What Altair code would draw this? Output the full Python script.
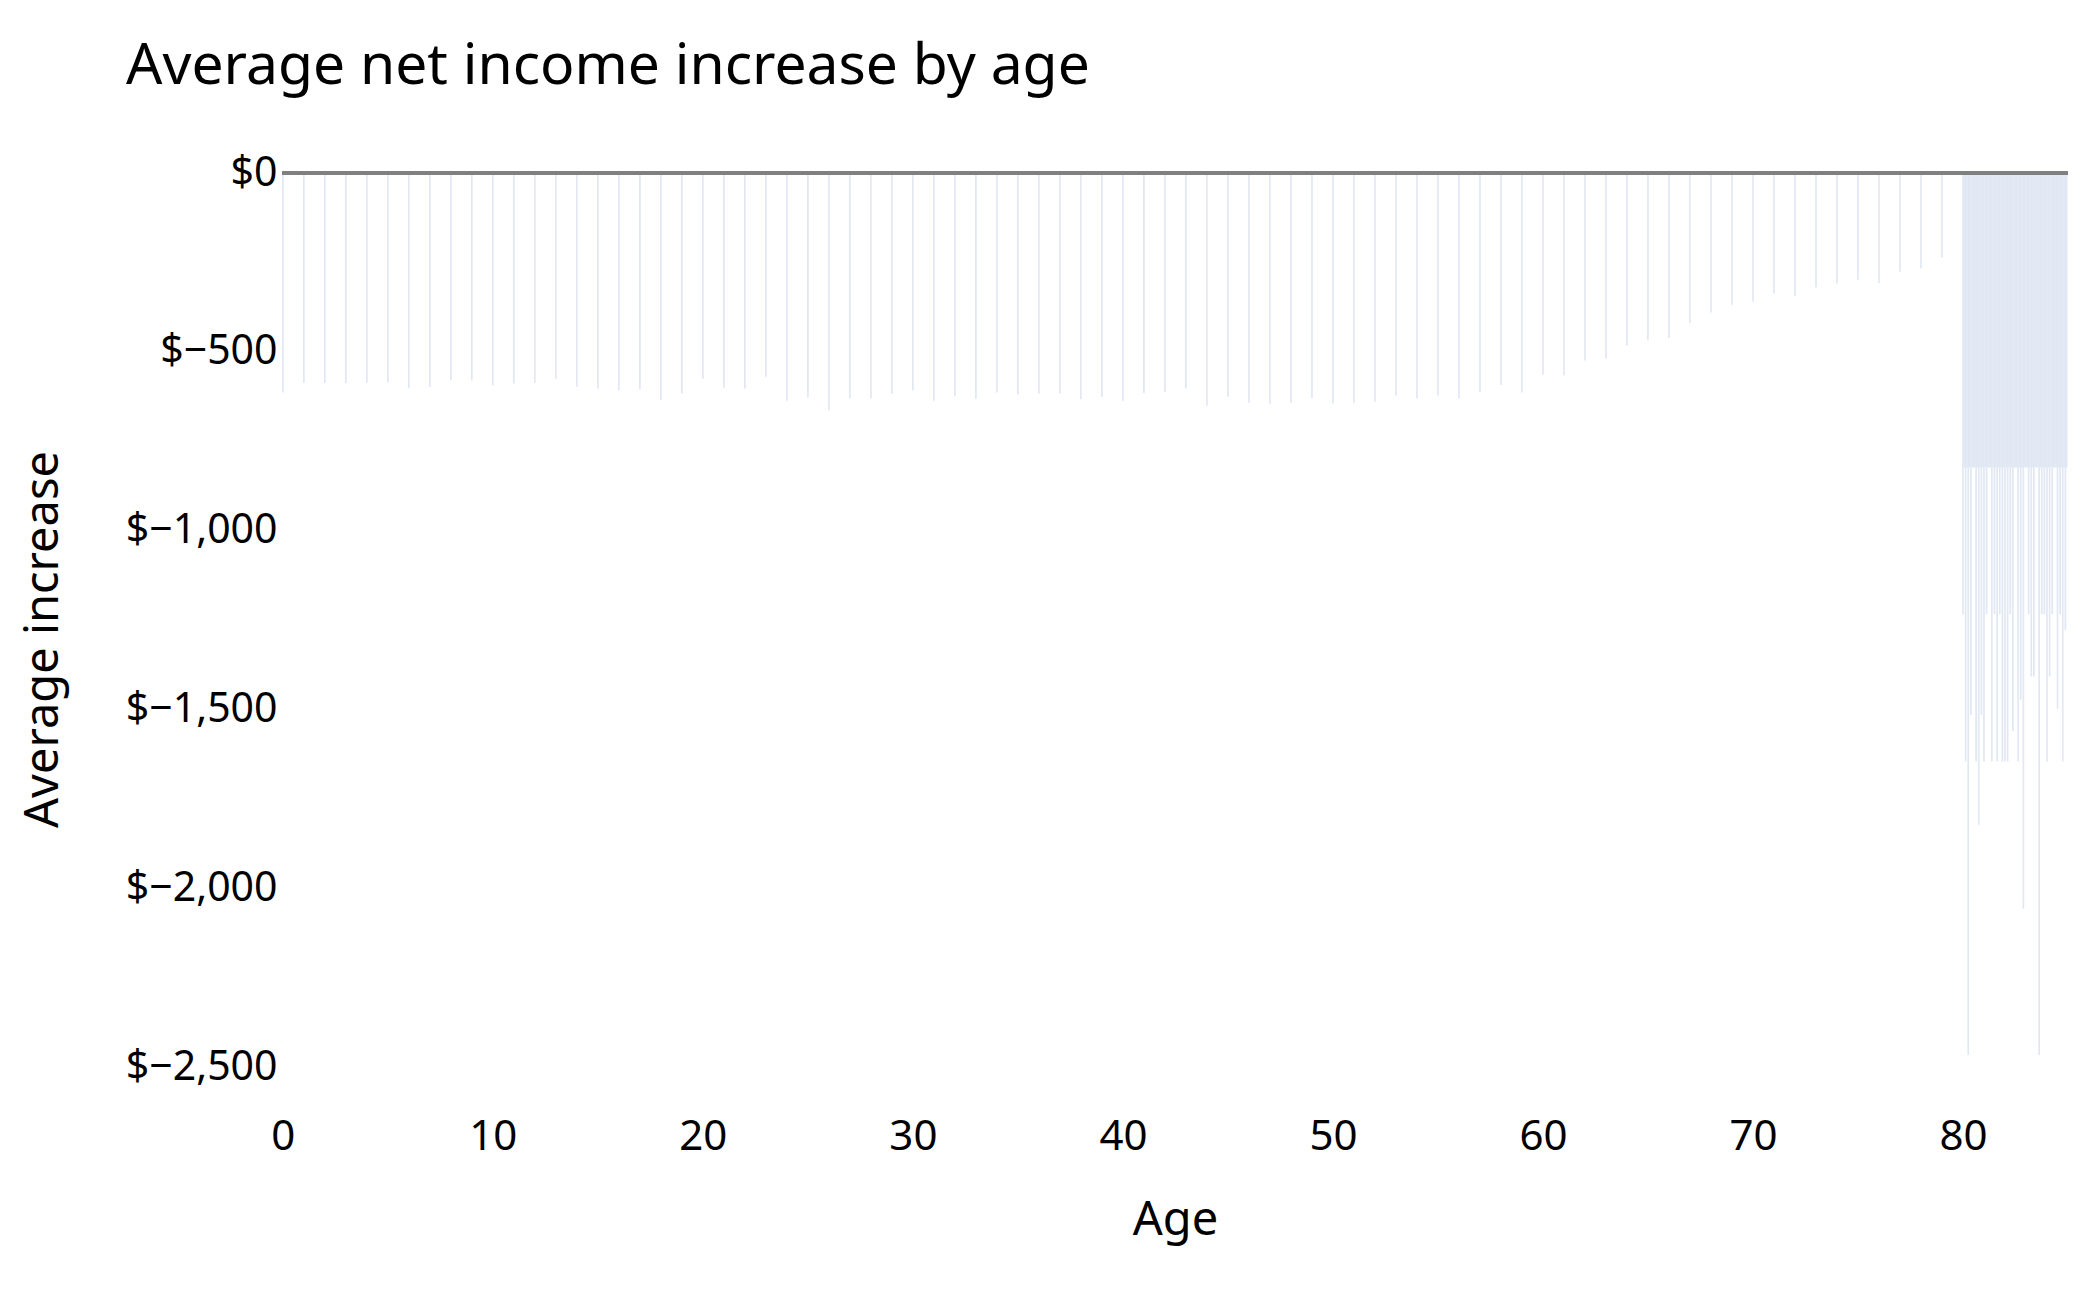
import altair as alt
import pandas as pd

TITLE = "Average net income increase by age"
X_TITLE = "Age"
Y_TITLE = "Average increase"

# Single-year ages 0-79
AGES_MAIN = list(range(0, 80))
VALUES_MAIN = [
    -613, -587, -587, -587, -586, -585, -600, -598, -579, -580,
    -594, -588, -586, -575, -597, -602, -608, -605, -634, -616,
    -575, -600, -602, -569, -636, -627, -663, -630, -630, -617,
    -608, -636, -623, -631, -613, -619, -616, -616, -632, -625,
    -636, -615, -611, -602, -650, -625, -642, -646, -642, -629,
    -644, -642, -639, -622, -630, -622, -630, -612, -592, -613,
    -564, -566, -524, -519, -482, -467, -461, -419, -390, -369,
    -360, -337, -344, -320, -309, -298, -307, -276, -267, -237,
]

# Ages 80+ (fine-grained ages): deeper records
AGES_OLD = [
    80.000, 80.125, 80.250, 80.375, 80.500, 80.625, 80.750, 80.875,
    81.000, 81.125, 81.250, 81.375, 81.500, 81.625, 81.750, 81.875,
    82.000, 82.125, 82.250, 82.375, 82.500, 82.625, 82.750, 82.875,
    83.000, 83.125, 83.250, 83.375, 83.500, 83.625, 83.750, 83.875,
    84.000, 84.125, 84.250, 84.375, 84.500, 84.625, 84.750, 84.875,
]
VALUES_OLD = [
    -1233, -1644, -2464, -1514, -823, -1644, -1821, -1514,
    -1644, -1233, -823, -1644, -1233, -1644, -1233, -1644,
    -1644, -1644, -1233, -1560, -823, -1644, -1472, -2056,
    -823, -1233, -1407, -1407, -823, -2464, -1233, -1233,
    -1644, -1407, -1233, -823, -1497, -1233, -1644, -1277,
]
# Ages 80+ : records at the common level
AGES_OLD_B = [
    80.0625, 80.1875, 80.3125, 80.4375, 80.5625, 80.6875, 80.8125, 80.9375,
    81.0625, 81.1875, 81.3125, 81.4375, 81.5625, 81.6875, 81.8125, 81.9375,
    82.0625, 82.1875, 82.3125, 82.4375, 82.5625, 82.6875, 82.8125, 82.9375,
    83.0625, 83.1875, 83.3125, 83.4375, 83.5625, 83.6875, 83.8125, 83.9375,
    84.0625, 84.1875, 84.3125, 84.4375, 84.5625, 84.6875, 84.8125, 84.9375,
]
VALUES_OLD_B = [
    -823, -823, -823, -823, -823, -823, -823, -823,
    -823, -823, -823, -823, -823, -823, -823, -823,
    -823, -823, -823, -823, -823, -823, -823, -823,
    -823, -823, -823, -823, -823, -823, -823, -823,
    -823, -823, -823, -823, -823, -823, -823, -823,
]

Y_TICKS = [0, -500, -1000, -1500, -2000, -2500]
X_TICKS = [0, 10, 20, 30, 40, 50, 60, 70, 80]

df = pd.DataFrame({
    "age": AGES_MAIN + AGES_OLD + AGES_OLD_B,
    "value": VALUES_MAIN + VALUES_OLD + VALUES_OLD_B,
})

FONT = "Noto Sans"
HALF_W = 0.04
X_DOMAIN = [-0.04, 85.0]
Y_DOMAIN = [-2590, 0]

x_axis = alt.Axis(
    values=X_TICKS, title=X_TITLE, grid=False, domain=False, ticks=False, tickSize=0,
    labelFont=FONT, labelFontSize=42, labelColor="black", labelPadding=16,
    titleFont=FONT, titleFontSize=47, titleFontWeight="normal", titleColor="black",
    titleBaseline="alphabetic", titleY=134, labelFlush=False,
)
y_axis = alt.Axis(
    values=Y_TICKS, title=Y_TITLE, grid=False, domain=False, ticks=False, tickSize=0,
    labelFont=FONT, labelFontSize=41, labelColor="black", labelPadding=5,
    labelExpr="'$' + format(datum.value, ',')",
    titleFont=FONT, titleFontSize=47, titleFontWeight="normal", titleColor="black",
    titleBaseline="alphabetic", titleAngle=-90, titleAlign="center",
    titleX=-225, titleY=466, labelFlush=False,
)

bars = alt.Chart(df).transform_calculate(
    x0=f"datum.age - {HALF_W}", x1=f"datum.age + {HALF_W}"
).mark_bar(color="#E1E8F3").encode(
    x=alt.X("x0:Q", scale=alt.Scale(domain=X_DOMAIN, nice=False, zero=False), axis=x_axis),
    x2="x1:Q",
    y=alt.Y("value:Q", scale=alt.Scale(domain=Y_DOMAIN, nice=False), axis=y_axis),
    y2=alt.datum(0),
)

zero = alt.Chart(df).mark_rule(color="#808080", strokeWidth=3).encode(y=alt.datum(0))

chart = alt.layer(bars, zero).properties(
    width=1786,
    height=927,
    title=alt.TitleParams(
        text=TITLE, anchor="start", frame="group", font=FONT, fontSize=57,
        fontWeight="normal", color="black", baseline="alphabetic", dx=-156, offset=11,
    ),
    autosize=alt.AutoSizeParams(type="none"),
    padding={"left": 274, "top": 165, "right": 10, "bottom": 150},
).configure(background="white", view=alt.ViewConfig(stroke=None))

chart.save("out.html", embed_options={"renderer": "svg", "actions": False})
